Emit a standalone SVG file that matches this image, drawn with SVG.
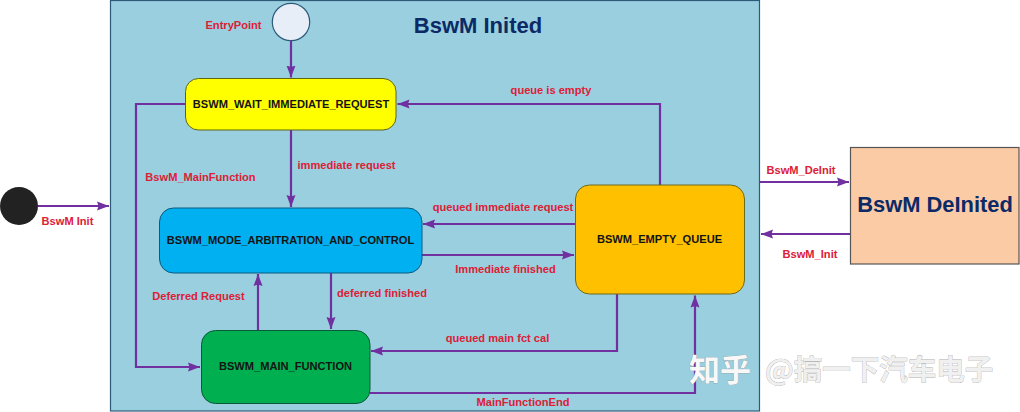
<svg xmlns="http://www.w3.org/2000/svg" width="1020" height="412" viewBox="0 0 1020 412">
<style>
text{font-family:"Liberation Sans",Arial,sans-serif;font-weight:bold}
.state{stroke-width:1}
.name{font-size:11.1px;fill:#141414;text-anchor:middle}
.lbl{font-size:11.1px;fill:#dd2036;text-anchor:middle}
.title{fill:#0b2a66;text-anchor:middle}
.wire{fill:none;stroke:#7030a0;stroke-width:2.200;marker-end:url(#arrow)}
.wm{font-family:"Noto Sans CJK SC",sans-serif;stroke:#8f8f8f;stroke-width:.5;paint-order:stroke;text-anchor:start}
</style>
<defs>
<marker id="arrow" markerUnits="userSpaceOnUse" markerWidth="13" markerHeight="10" refX="12" refY="5" orient="auto">
<path d="M0 .5L12 5L0 9.500L1.500 5Z" fill="#7030a0"/>
</marker>
</defs>
<rect width="1020" height="412" fill="#fff"/>
<g id="bswm-inited">
<rect x="110.500" y="0.500" width="649" height="410.500" fill="#99cfdf" stroke="#2d5a78" stroke-width="1.200"/>
<text class="title" x="478" y="33" font-size="22">BswM Inited</text>
</g>
<g id="connectors">
<path class="wire" d="M38 206H109"/>
<path class="wire" d="M291 41V77.500"/>
<path class="wire" d="M291 130V207"/>
<path class="wire" d="M185.500 104H136V367H200"/>
<path class="wire" d="M660 185V104H397.500"/>
<path class="wire" d="M575 224H423"/>
<path class="wire" d="M422 255H574"/>
<path class="wire" d="M331 273V329"/>
<path class="wire" d="M258 330V274"/>
<path class="wire" d="M617 294V351H371"/>
<path class="wire" d="M370 393H695V295.500"/>
<path class="wire" d="M760 182H849"/>
<path class="wire" d="M850 234H761"/>
</g>
<g id="start"><circle cx="19" cy="206" r="19" fill="#222"/></g>
<g id="entry-point"><circle cx="291" cy="22" r="18.700" fill="#e8eef7" stroke="#2d5a78" stroke-width="1.200"/></g>
<g id="wait-immediate-request">
<rect class="state" x="185.500" y="78.500" width="210.500" height="51.500" rx="13" fill="#ffff00" stroke="#5f6414"/>
<text class="name" x="291" y="108">BSWM_WAIT_IMMEDIATE_REQUEST</text>
</g>
<g id="mode-arbitration">
<rect class="state" x="159.500" y="208" width="262.500" height="65" rx="14" fill="#00b0f0" stroke="#0b5a80"/>
<text class="name" x="290.500" y="244">BSWM_MODE_ARBITRATION_AND_CONTROL</text>
</g>
<g id="main-function">
<rect class="state" x="201.500" y="330.500" width="168.500" height="73" rx="14" fill="#00b050" stroke="#0a5a38"/>
<text class="name" x="285.500" y="370">BSWM_MAIN_FUNCTION</text>
</g>
<g id="empty-queue">
<rect class="state" x="575.500" y="185" width="169" height="109" rx="14" fill="#ffc000" stroke="#6a6a20"/>
<text class="name" x="659.500" y="243">BSWM_EMPTY_QUEUE</text>
</g>
<g id="bswm-deinited">
<rect x="850.500" y="147.500" width="168.500" height="116.500" fill="#fbcba6" stroke="#555" stroke-width="1.200"/>
<text class="title" x="935" y="212" font-size="21.900">BswM DeInited</text>
</g>
<g id="labels">
<text class="lbl" x="233.500" y="29">EntryPoint</text>
<text class="lbl" x="67.500" y="225">BswM Init</text>
<text class="lbl" x="200.500" y="181">BswM_MainFunction</text>
<text class="lbl" x="346.500" y="169">immediate request</text>
<text class="lbl" x="551" y="94">queue is empty</text>
<text class="lbl" x="503" y="211">queued immediate request</text>
<text class="lbl" x="505.500" y="273">Immediate finished</text>
<text class="lbl" x="198.500" y="300">Deferred Request</text>
<text class="lbl" x="382" y="297">deferred finished</text>
<text class="lbl" x="497.500" y="342">queued main fct cal</text>
<text class="lbl" x="523" y="406">MainFunctionEnd</text>
<text class="lbl" x="801" y="174">BswM_DeInit</text>
<text class="lbl" x="810" y="258">BswM_Init</text>
</g>
<g id="watermark">
<text class="wm" x="689" y="381" font-size="31" font-weight="700" fill="#f8f8f8">知乎</text>
<text class="wm" x="765" y="380" font-size="28.500" font-weight="400" fill="#f0f0f0">@搞一下汽车电子</text>
</g>
</svg>
